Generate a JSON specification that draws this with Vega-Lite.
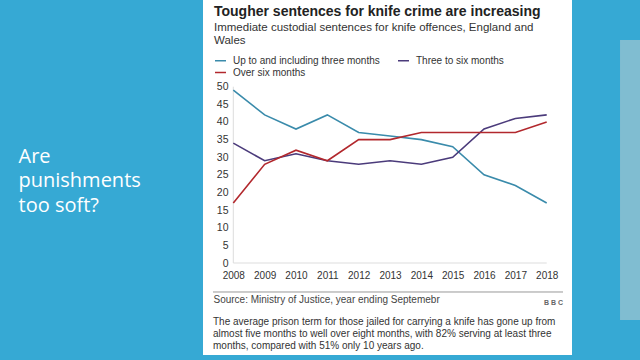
{
  "$schema": "https://vega.github.io/schema/vega-lite/v6.json",
  "autosize": {"type": "none"},
  "width": 369,
  "height": 355,
  "padding": {"left": 203, "top": 0, "right": 68, "bottom": 5},
  "background": "#36a9d4",
  "view": {"fill": "white", "stroke": null},
  "config": {"font": "Liberation Sans"},
  "title": {
    "text": "Tougher sentences for knife crime are increasing",
    "subtitle": ["Immediate custodial sentences for knife offences, England and", "Wales"],
    "anchor": "start",
    "frame": "group",
    "orient": "top",
    "dx": 11,
    "offset": -46,
    "font": "Liberation Sans",
    "fontSize": 14,
    "fontWeight": "bold",
    "color": "#222222",
    "subtitleFont": "Liberation Sans",
    "subtitleFontSize": 11.5,
    "subtitleColor": "#333333",
    "subtitlePadding": 3,
    "subtitleLineHeight": 13
  },
  "data": {
    "values": [
      {"year": 2008, "series": "Up to and including three months", "value": 49},
      {"year": 2009, "series": "Up to and including three months", "value": 42},
      {"year": 2010, "series": "Up to and including three months", "value": 38},
      {"year": 2011, "series": "Up to and including three months", "value": 42},
      {"year": 2012, "series": "Up to and including three months", "value": 37},
      {"year": 2013, "series": "Up to and including three months", "value": 36},
      {"year": 2014, "series": "Up to and including three months", "value": 35},
      {"year": 2015, "series": "Up to and including three months", "value": 33},
      {"year": 2016, "series": "Up to and including three months", "value": 25},
      {"year": 2017, "series": "Up to and including three months", "value": 22},
      {"year": 2018, "series": "Up to and including three months", "value": 17},
      {"year": 2008, "series": "Three to six months", "value": 34},
      {"year": 2009, "series": "Three to six months", "value": 29},
      {"year": 2010, "series": "Three to six months", "value": 31},
      {"year": 2011, "series": "Three to six months", "value": 29},
      {"year": 2012, "series": "Three to six months", "value": 28},
      {"year": 2013, "series": "Three to six months", "value": 29},
      {"year": 2014, "series": "Three to six months", "value": 28},
      {"year": 2015, "series": "Three to six months", "value": 30},
      {"year": 2016, "series": "Three to six months", "value": 38},
      {"year": 2017, "series": "Three to six months", "value": 41},
      {"year": 2018, "series": "Three to six months", "value": 42},
      {"year": 2008, "series": "Over six months", "value": 17},
      {"year": 2009, "series": "Over six months", "value": 28},
      {"year": 2010, "series": "Over six months", "value": 32},
      {"year": 2011, "series": "Over six months", "value": 29},
      {"year": 2012, "series": "Over six months", "value": 35},
      {"year": 2013, "series": "Over six months", "value": 35},
      {"year": 2014, "series": "Over six months", "value": 37},
      {"year": 2015, "series": "Over six months", "value": 37},
      {"year": 2016, "series": "Over six months", "value": 37},
      {"year": 2017, "series": "Over six months", "value": 37},
      {"year": 2018, "series": "Over six months", "value": 40}
    ]
  },
  "layer": [
    {
      "data": {"values": [{}]},
      "mark": {"type": "rect", "color": "#80bdd1"},
      "encoding": {
        "x": {"datum": 2020.339, "type": "quantitative", "scale": {"domain": [2007.033, 2018.807], "nice": false, "zero": false}},
        "x2": {"datum": 2021},
        "y": {"datum": 63.24, "type": "quantitative", "scale": {"domain": [-26.09, 74.59], "nice": false, "zero": false}},
        "y2": {"datum": -16.17}
      }
    },
    {
      "data": {"values": [{}]},
      "mark": {"type": "rule", "color": "#dddddd", "strokeWidth": 1},
      "encoding": {
        "x": {"datum": 2008, "type": "quantitative"},
        "x2": {"datum": 2018},
        "y": {"datum": 0, "type": "quantitative"}
      }
    },
    {
      "data": {"values": [{}]},
      "mark": {"type": "rule", "color": "#dddddd", "strokeWidth": 1},
      "encoding": {
        "x": {"datum": 2008, "type": "quantitative"},
        "y": {"datum": 0, "type": "quantitative"},
        "y2": {"datum": 50}
      }
    },
    {
      "data": {"values": [{}]},
      "mark": {"type": "rule", "color": "#999999", "strokeWidth": 1},
      "encoding": {
        "x": {"datum": 2007.352, "type": "quantitative"},
        "x2": {"datum": 2018.52},
        "y": {"datum": -8.22, "type": "quantitative"}
      }
    },
    {
      "mark": {"type": "line", "strokeWidth": 1.6},
      "encoding": {
        "x": {
          "field": "year",
          "type": "quantitative",
          "scale": {"domain": [2007.033, 2018.807], "nice": false, "zero": false},
          "axis": {
            "values": [2008, 2009, 2010, 2011, 2012, 2013, 2014, 2015, 2016, 2017, 2018],
            "tickCount": 30,
            "format": "d",
            "offset": -92,
            "domain": false,
            "ticks": false,
            "grid": false,
            "labelFlush": false,
            "labelOverlap": false,
            "labelPadding": 7,
            "labelFontSize": 10,
            "labelColor": "#333333",
            "title": "Source: Ministry of Justice, year ending Septemebr",
            "titleX": 10,
            "titleY": 39,
            "titleAlign": "left",
            "titleBaseline": "alphabetic",
            "titleFontSize": 10,
            "titleFontWeight": "normal",
            "titleColor": "#444444"
          }
        },
        "y": {
          "field": "value",
          "type": "quantitative",
          "scale": {"domain": [-26.09, 74.59], "nice": false, "zero": false},
          "axis": {
            "values": [0, 5, 10, 15, 20, 25, 30, 35, 40, 45, 50],
            "tickCount": 30,
            "offset": -30,
            "domain": false,
            "ticks": false,
            "grid": false,
            "labelOverlap": false,
            "labelPadding": 5,
            "labelFontSize": 10.5,
            "labelColor": "#333333",
            "title": ["Are", "punishments", "too soft?"],
            "titleAngle": 0,
            "titleAlign": "left",
            "titleBaseline": "alphabetic",
            "titleX": -215,
            "titleY": 162,
            "titleFont": "Open Sans",
            "titleFontSize": 20,
            "titleFontWeight": "normal",
            "titleColor": "white",
            "titleLineHeight": 24.5
          }
        },
        "color": {
          "field": "series",
          "type": "nominal",
          "scale": {
            "domain": ["Up to and including three months", "Three to six months", "Over six months"],
            "range": ["#3a8bab", "#4b3b7b", "#b2282d"]
          },
          "legend": {
            "orient": "none",
            "legendX": 11,
            "legendY": 54,
            "direction": "horizontal",
            "columns": 2,
            "title": null,
            "symbolType": "stroke",
            "symbolSize": 121,
            "symbolStrokeWidth": 1.5,
            "labelFontSize": 10,
            "labelColor": "#333333",
            "labelOffset": 6,
            "labelLimit": 300,
            "columnPadding": 15,
            "rowPadding": -2
          }
        }
      }
    },
    {
      "data": {"values": [{}]},
      "mark": {"type": "text", "text": "B B C", "fontSize": 7, "fontWeight": "bold", "color": "#666666", "align": "right", "baseline": "alphabetic"},
      "encoding": {
        "x": {"datum": 2018.52, "type": "quantitative"},
        "y": {"datum": -11.91, "type": "quantitative"}
      }
    },
    {
      "data": {"values": [{}]},
      "mark": {
        "type": "text",
        "text": [
          "The average prison term for those jailed for carrying a knife has gone up from",
          "almost five months to well over eight months, with 82% serving at least three",
          "months, compared with 51% only 10 years ago."
        ],
        "fontSize": 10,
        "lineHeight": 12,
        "color": "#333333",
        "align": "left",
        "baseline": "alphabetic"
      },
      "encoding": {
        "x": {"datum": 2007.352, "type": "quantitative"},
        "y": {"datum": -17.58, "type": "quantitative"}
      }
    }
  ]
}
